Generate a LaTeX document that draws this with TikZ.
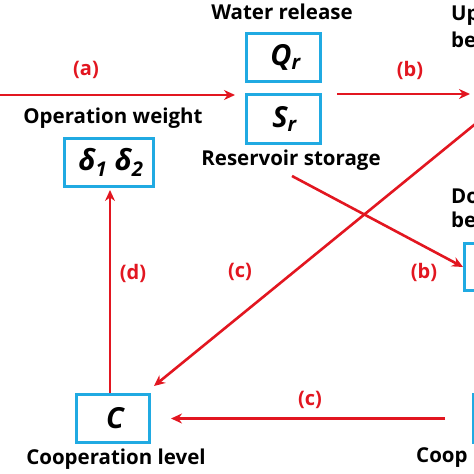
\documentclass[tikz,border=0pt]{standalone}
\usepackage{fontspec}
\setmainfont{Open Sans}
\usetikzlibrary{arrows.meta}
\definecolor{arrred}{RGB}{226,22,32}
\definecolor{boxblue}{RGB}{32,170,226}
\tikzset{
  varbox/.style={draw=boxblue, line width=3pt, inner sep=0pt},
  arr/.style={draw=arrred, line width=2.6pt, -{Stealth[length=11pt,width=10pt]}},
  lab/.style={text=arrred, font=\bfseries\fontsize{20}{24}\selectfont},
  txt/.style={font=\bfseries\fontsize{20.5}{24}\selectfont},
  sym/.style={font=\bfseries\itshape\fontsize{29}{33}\selectfont},
}
\begin{document}
\begin{tikzpicture}[x=1pt,y=-1pt]
\useasboundingbox (0,0) rectangle (474,474);
% boxes
\node[varbox, minimum width=74pt, minimum height=48pt] (Qr) at (283.5,57.5) {};
\node[sym] at ([xshift=2pt]Qr.center) {Q\textsubscript{r}};
\node[varbox, minimum width=74pt, minimum height=49pt] (Sr) at (283.5,119) {};
\node[sym] at ([xshift=1pt]Sr.center) {S\textsubscript{r}};
\node[varbox, minimum width=89pt, minimum height=48pt] (dl) at (109,162.5) {};
\node[sym] at ([xshift=2pt]dl.center) {δ\textsubscript{1} δ\textsubscript{2}};
\node[varbox, minimum width=73pt, minimum height=48pt] (C) at (113,418.5) {};
\node[sym] at ([xshift=2pt]C.center) {C};
\node[varbox, minimum width=74pt, minimum height=47pt] (rm) at (501.5,267) {};
\node[varbox, minimum width=74pt, minimum height=48pt] (br) at (510.5,418.5) {};
% texts
\node[txt] (t1) at (282,12) {Water release};
\node[txt] (t2) at (291,160) {Reservoir storage};
\node[txt] (t3) at (113,118) {Operation weight};
\node[txt] (t4) at (116,459) {Cooperation level};
\node[txt, anchor=west, inner sep=0pt] (t5) at (451,16) {Up};
\node[txt, anchor=west, inner sep=0pt] (t6) at (451,40) {be};
\node[txt, anchor=west, inner sep=0pt] (t7) at (451,196) {Do};
\node[txt, anchor=west, inner sep=0pt] (t8) at (451,220) {be};
\node[txt, anchor=west, inner sep=0pt] (t9) at (416,458) {Coop};
% connectors
\coordinate (a0) at (-5,95);
\coordinate (a1) at (235,95);
\draw[arr] (a0) -- (a1);
\coordinate (b0) at (337,94);
\coordinate (b1) at (470,94);
\draw[arr] (b0) -- (b1);
\coordinate (b2) at (292,176);
\draw[arr] (b2) -- (rm.west);
\coordinate (c0) at (482,118.5);
\coordinate (c1) at (154,386);
\draw[arr] (c0) -- (c1);
\draw[arr, shorten >=2pt] (C.north -| 110,0) -- (dl.south -| 110,0);
\draw[arr, shorten <=27pt, shorten >=20pt] (br.west) -- (C.east);
% labels
\node[lab] (la) at (86,70) {(a)};
\node[lab] (lb1) at (410,70) {(b)};
\node[lab] (lb2) at (424,272) {(b)};
\node[lab] (lc1) at (240,272) {(c)};
\node[lab] (ld) at (133,273) {(d)};
\node[lab] (lc2) at (310,400) {(c)};
\end{tikzpicture}
\end{document}
